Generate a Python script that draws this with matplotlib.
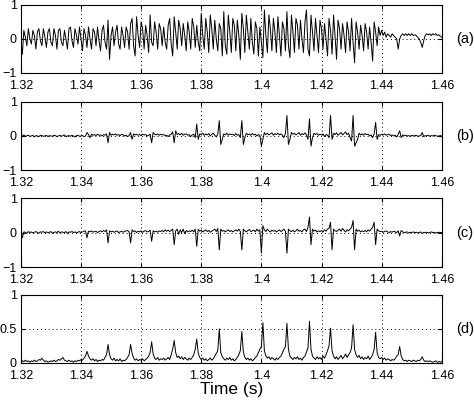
import matplotlib
matplotlib.use('Agg')
import matplotlib.pyplot as plt
import numpy as np

plt.rcParams['font.family'] = ['Liberation Sans', 'DejaVu Sans']

# sampled signals, 0.5 ms step from 1.32 s to 1.46 s
t_start = 1.32
t_step = 0.0005

sig_a = [
    0.0, -0.45, 0.25, 0.05, -0.2, 0.3, 0.0, -0.15, 0.25, 0.1, -0.3, 0.2, 0.3, -0.05, -0.2, 0.3, 0.05, -0.25, 0.2, 0.3,
    -0.1, -0.2, 0.3, 0.1, -0.3, 0.25, 0.3, -0.1, -0.2, 0.25, 0.0, -0.3, 0.3, 0.35, -0.05, -0.25, 0.3, 0.1, -0.15, 0.35,
    0.0, -0.35, 0.3, 0.1, -0.25, 0.35, 0.0, -0.3, 0.3, 0.2, -0.2, 0.35, -0.05, -0.35, 0.25, 0.4, -0.1, -0.3, 0.55, -0.6,
    0.1, 0.35, -0.2, 0.2, 0.4, -0.15, -0.3, 0.35, 0.1, -0.25, 0.35, 0.2, -0.3, 0.45, 0.6, -0.2, -0.5, 0.65, 0.1, -0.25,
    0.5, 0.3, -0.3, 0.4, 0.1, -0.4, 0.7, -0.1, -0.2, 0.5, 0.2, -0.3, 0.45, 0.3, -0.2, 0.35, -0.1, -0.3, 0.4, 0.6,
    -0.15, -0.5, 0.65, 0.2, -0.3, 0.55, 0.3, -0.2, 0.45, 0.1, -0.35, 0.5, 0.2, -0.3, 0.6, 0.35, -0.25, 0.4, -0.1, -0.35,
    0.75, 0.1, -0.3, 0.6, 0.2, -0.4, 0.7, 0.3, -0.3, 0.55, 0.0, -0.35, 0.45, 0.3, -0.5, 0.8, -0.2, -0.45, 0.7, 0.2,
    -0.4, 0.6, 0.4, -0.35, 0.55, 0.1, -0.6, 0.75, 0.3, -0.4, 0.7, 0.2, -0.3, 0.6, -0.1, -0.45, 0.5, 0.3, -0.5, 0.35,
    -0.1, -0.55, 0.85, 0.1, -0.4, 0.7, 0.3, -0.35, 0.6, 0.2, -0.4, 0.65, 0.1, -0.5, 0.5, 0.3, -0.35, 0.8, -0.2, -0.55,
    0.7, 0.2, -0.4, 0.6, 0.4, -0.3, 0.55, 0.0, -0.4, 0.5, 0.85, -0.3, -0.5, 0.7, 0.2, -0.35, 0.6, 0.1, -0.4, 0.55,
    0.3, -0.3, 0.45, 0.0, -0.5, 0.6, 0.25, -0.45, 0.7, 0.1, -0.6, 0.55, 0.3, -0.3, 0.45, 0.1, -0.4, 0.5, 0.2, -0.35,
    0.6, -0.1, -0.7, 0.5, 0.2, -0.3, 0.4, 0.1, -0.35, 0.45, 0.2, -0.3, 0.35, -0.1, -0.65, 0.5, 0.2, -0.2, 0.35, 0.1,
    0.25, 0.1, 0.2, 0.05, 0.15, 0.1, 0.05, 0.15, 0.1, 0.05, 0.0, -0.3, 0.0, 0.1, 0.15, 0.1, 0.15, 0.1, 0.15, 0.1,
    0.15, 0.1, 0.12, 0.1, 0.05, 0.0, -0.1, -0.25, -0.05, 0.1, 0.15, 0.12, 0.15, 0.1, 0.15, 0.12, 0.15, 0.1, 0.12, 0.08, 0.05,
]

sig_b = [
    0.02, 0.0, 0.03, -0.02, 0.01, 0.02, -0.01, 0.0, 0.02, -0.03, 0.01, 0.0, -0.02, 0.02, 0.01, -0.01, 0.0, 0.02, -0.02, 0.01,
    0.0, -0.01, 0.02, 0.01, -0.02, 0.0, 0.02, -0.01, 0.01, 0.03, -0.02, 0.0, 0.01, -0.01, 0.02, 0.0, -0.03, 0.01, 0.02, -0.01,
    0.0, 0.01, -0.02, 0.0, 0.1, 0.04, -0.05, 0.05, 0.02, 0.04, 0.01, 0.05, 0.02, 0.03, 0.0, 0.04, 0.02, 0.06, -0.2, 0.1,
    0.02, 0.05, 0.03, 0.06, 0.02, 0.04, 0.01, 0.05, 0.03, 0.0, 0.02, -0.02, 0.01, 0.1, -0.1, 0.06, 0.03, 0.05, 0.02, 0.04,
    0.01, 0.05, 0.03, 0.04, 0.0, 0.02, 0.05, -0.2, 0.1, 0.05, 0.03, 0.06, 0.02, 0.05, 0.03, 0.04, 0.01, 0.02, -0.02, 0.03,
    0.05, 0.12, -0.2, 0.15, 0.04, 0.07, 0.03, 0.08, 0.02, 0.05, 0.06, 0.02, 0.04, -0.02, 0.03, 0.05, -0.05, 0.35, -0.1, 0.06,
    0.04, 0.08, 0.02, 0.06, 0.03, 0.07, 0.0, 0.05, 0.08, 0.02, -0.03, 0.05, 0.45, -0.25, -0.1, 0.06, 0.03, 0.08, 0.02, 0.06,
    0.04, 0.05, 0.01, 0.07, 0.02, 0.04, -0.05, 0.45, -0.25, -0.05, 0.08, 0.03, 0.06, 0.02, 0.07, 0.03, 0.05, 0.0, 0.04, 0.02,
    -0.3, -0.1, 0.1, 0.04, 0.08, 0.03, 0.06, 0.09, 0.02, 0.07, 0.04, 0.08, 0.03, 0.06, 0.02, -0.05, 0.08, 0.6, -0.25, -0.1,
    0.1, 0.05, 0.08, 0.03, 0.06, 0.1, 0.02, 0.07, 0.04, 0.09, 0.03, -0.1, 0.5, -0.3, -0.05, 0.08, 0.04, 0.07, 0.02, 0.05,
    0.03, 0.06, -0.02, 0.04, 0.02, -0.05, 0.6, -0.1, 0.08, 0.04, 0.09, 0.02, 0.06, 0.1, 0.03, 0.07, 0.12, 0.04, 0.08, -0.05,
    -0.15, 0.6, -0.3, -0.2, -0.1, 0.08, 0.03, 0.06, 0.02, 0.07, 0.04, 0.05, 0.0, 0.03, -0.05, 0.06, 0.4, -0.1, 0.04, 0.02,
    0.05, 0.03, 0.06, 0.02, 0.04, 0.05, 0.01, 0.03, 0.0, 0.02, -0.03, 0.05, 0.15, -0.05, 0.03, 0.01, 0.02, 0.0, 0.01, -0.01,
    0.02, 0.0, 0.01, 0.02, -0.01, 0.0, 0.01, 0.1, -0.02, 0.01, 0.0, 0.02, -0.01, 0.01, 0.0, 0.02, 0.01, -0.01, 0.0, 0.01, 0.0,
]

sig_c = [
    0.0, -0.15, 0.02, 0.01, -0.02, 0.03, 0.0, 0.02, -0.01, 0.01, 0.03, 0.0, -0.02, 0.02, 0.01, 0.03, -0.01, 0.02, 0.0, 0.01,
    0.03, -0.02, 0.01, 0.02, 0.0, 0.04, -0.01, 0.02, 0.01, 0.0, 0.03, -0.02, 0.02, 0.01, 0.03, 0.0, 0.02, -0.01, 0.01, 0.03,
    0.0, 0.02, 0.04, 0.05, -0.15, 0.04, 0.02, 0.05, 0.01, 0.03, 0.04, 0.0, 0.03, 0.05, 0.02, 0.06, 0.03, 0.08, -0.3, 0.05,
    0.02, 0.04, 0.01, 0.03, 0.05, 0.0, 0.02, 0.04, 0.01, 0.03, 0.05, 0.06, 0.02, -0.3, 0.08, 0.03, 0.05, 0.0, 0.04, 0.02,
    0.05, 0.01, 0.04, 0.06, 0.02, 0.03, 0.07, -0.25, 0.05, 0.02, 0.04, 0.01, 0.05, 0.03, 0.06, 0.02, 0.08, 0.04, 0.07, 0.03,
    0.06, 0.1, -0.35, 0.05, 0.1, -0.05, 0.08, 0.0, 0.1, -0.03, 0.06, 0.02, 0.05, 0.03, 0.07, 0.02, 0.1, -0.4, 0.1, 0.04,
    0.07, 0.02, 0.05, 0.08, 0.03, 0.06, 0.01, 0.04, 0.07, 0.1, 0.03, 0.12, -0.5, 0.1, 0.04, 0.06, 0.02, 0.05, 0.08, 0.03,
    0.06, 0.02, 0.05, 0.08, 0.04, 0.1, 0.03, -0.5, 0.1, 0.05, 0.02, 0.06, 0.09, 0.03, 0.05, 0.07, 0.02, 0.1, 0.04, 0.08,
    -0.6, 0.2, 0.08, 0.03, 0.1, 0.05, 0.02, 0.07, 0.04, 0.06, 0.02, 0.05, 0.08, 0.03, 0.06, 0.1, 0.04, -0.6, 0.1, 0.05,
    0.03, 0.07, 0.02, 0.05, 0.1, 0.04, 0.06, 0.02, 0.08, 0.1, 0.03, 0.15, 0.45, -0.35, 0.1, 0.04, 0.07, 0.02, 0.05, 0.03,
    0.06, 0.02, 0.08, 0.04, 0.1, 0.12, 0.3, -0.5, 0.1, 0.05, 0.03, 0.07, 0.1, 0.04, 0.12, 0.06, 0.02, 0.08, 0.05, 0.1,
    0.15, 0.35, -0.5, 0.1, 0.04, 0.07, 0.02, 0.05, 0.03, 0.06, 0.02, 0.08, 0.04, 0.1, 0.15, 0.3, -0.35, 0.1, 0.05, 0.03,
    0.04, 0.01, 0.03, 0.05, 0.02, 0.0, 0.03, 0.01, 0.04, 0.02, 0.0, 0.05, -0.1, 0.06, 0.02, 0.0, 0.01, 0.02, -0.01, 0.01,
    0.0, 0.02, 0.0, 0.01, -0.01, 0.0, 0.02, -0.03, 0.01, 0.0, 0.01, -0.01, 0.0, 0.02, 0.0, 0.01, -0.01, 0.0, 0.01, 0.0, 0.0,
]

sig_d = [
    0.05, 0.03, 0.02, 0.04, 0.02, 0.03, 0.01, 0.03, 0.02, 0.04, 0.02, 0.03, 0.05, 0.04, 0.07, 0.04, 0.02, 0.03, 0.01, 0.02,
    0.03, 0.02, 0.04, 0.02, 0.03, 0.05, 0.04, 0.06, 0.08, 0.04, 0.03, 0.02, 0.04, 0.02, 0.03, 0.01, 0.03, 0.02, 0.04, 0.03,
    0.05, 0.04, 0.07, 0.1, 0.17, 0.1, 0.06, 0.04, 0.06, 0.03, 0.05, 0.02, 0.04, 0.03, 0.05, 0.04, 0.08, 0.12, 0.27, 0.12,
    0.06, 0.04, 0.07, 0.03, 0.05, 0.03, 0.06, 0.02, 0.04, 0.03, 0.05, 0.08, 0.12, 0.27, 0.14, 0.07, 0.04, 0.06, 0.03, 0.05,
    0.04, 0.06, 0.03, 0.05, 0.07, 0.1, 0.15, 0.31, 0.13, 0.07, 0.05, 0.08, 0.04, 0.06, 0.05, 0.07, 0.04, 0.06, 0.08, 0.05,
    0.12, 0.2, 0.33, 0.15, 0.08, 0.1, 0.06, 0.09, 0.05, 0.08, 0.06, 0.04, 0.07, 0.05, 0.08, 0.12, 0.2, 0.35, 0.14, 0.08,
    0.05, 0.07, 0.04, 0.06, 0.03, 0.05, 0.07, 0.04, 0.06, 0.1, 0.14, 0.18, 0.5, 0.15, 0.09, 0.06, 0.04, 0.07, 0.05, 0.08,
    0.04, 0.06, 0.03, 0.05, 0.08, 0.12, 0.18, 0.46, 0.16, 0.08, 0.05, 0.07, 0.04, 0.06, 0.03, 0.05, 0.08, 0.1, 0.15, 0.2,
    0.24, 0.59, 0.18, 0.1, 0.07, 0.09, 0.05, 0.08, 0.06, 0.04, 0.07, 0.05, 0.08, 0.1, 0.15, 0.2, 0.24, 0.58, 0.2, 0.1,
    0.07, 0.05, 0.08, 0.06, 0.09, 0.05, 0.07, 0.04, 0.08, 0.1, 0.16, 0.22, 0.61, 0.2, 0.1, 0.07, 0.05, 0.09, 0.06, 0.08,
    0.05, 0.1, 0.07, 0.12, 0.18, 0.25, 0.51, 0.18, 0.1, 0.06, 0.09, 0.05, 0.08, 0.11, 0.06, 0.09, 0.13, 0.08, 0.12, 0.15,
    0.22, 0.56, 0.2, 0.12, 0.08, 0.11, 0.06, 0.09, 0.05, 0.08, 0.06, 0.1, 0.05, 0.08, 0.12, 0.2, 0.45, 0.15, 0.08, 0.06,
    0.08, 0.05, 0.07, 0.04, 0.06, 0.05, 0.03, 0.05, 0.04, 0.06, 0.1, 0.12, 0.24, 0.1, 0.05, 0.03, 0.04, 0.02, 0.04, 0.03,
    0.02, 0.04, 0.03, 0.02, 0.04, 0.03, 0.05, 0.09, 0.04, 0.02, 0.03, 0.02, 0.03, 0.02, 0.01, 0.02, 0.03, 0.01, 0.02, 0.01, 0.02,
]

panel_labels = ['(a)', '(b)', '(c)', '(d)']
x_ticks = [1.32, 1.34, 1.36, 1.38, 1.40, 1.42, 1.44, 1.46]
x_ticklabels = ['1.32', '1.34', '1.36', '1.38', '1.4', '1.42', '1.44', '1.46']
y_ticks_sig = [-1, 0, 1]
y_ticks_env = [0, 0.5, 1]

fig = plt.figure(figsize=(4.74, 4.01), dpi=100)

# axes boxes in figure fractions: left, bottom, width, height
boxes = [
    [0.044, 0.818, 0.888, 0.170],
    [0.044, 0.576, 0.888, 0.170],
    [0.044, 0.334, 0.888, 0.172],
    [0.044, 0.095, 0.888, 0.170],
]

signals = [sig_a, sig_b, sig_c, sig_d]
for i, (sig, box) in enumerate(zip(signals, boxes)):
    ax = fig.add_axes(box)
    t = t_start + t_step * np.arange(len(sig))
    ax.plot(t, sig, color='black', lw=0.7)
    ax.set_xlim(1.32, 1.46)
    if i < 3:
        ax.set_ylim(-1, 1)
        ax.set_yticks(y_ticks_sig)
        ax.set_yticklabels(['\u22121', '0', '1'])
    else:
        ax.set_ylim(0, 1)
        ax.set_yticks(y_ticks_env)
        ax.set_yticklabels(['0', '0.5', '1'])
    ax.set_xticks(x_ticks)
    ax.set_xticklabels(x_ticklabels)
    ax.grid(True, color='black', linestyle=(0, (1, 3)), lw=0.7)
    ax.set_axisbelow(True)
    ax.tick_params(direction='in', length=3, labelsize=9,
                   top=True, right=True)
    ax.tick_params(axis='x', pad=5)
    ax.tick_params(axis='y', pad=3)
    for s in ax.spines.values():
        s.set_linewidth(0.8)
    ax.text(1.035, 0.5, panel_labels[i], transform=ax.transAxes,
            ha='left', va='center', fontsize=10.5)
    if i == 3:
        ax.set_xlabel('Time (s)', fontsize=12.5, labelpad=0)

fig.savefig('out.png', dpi=100)
